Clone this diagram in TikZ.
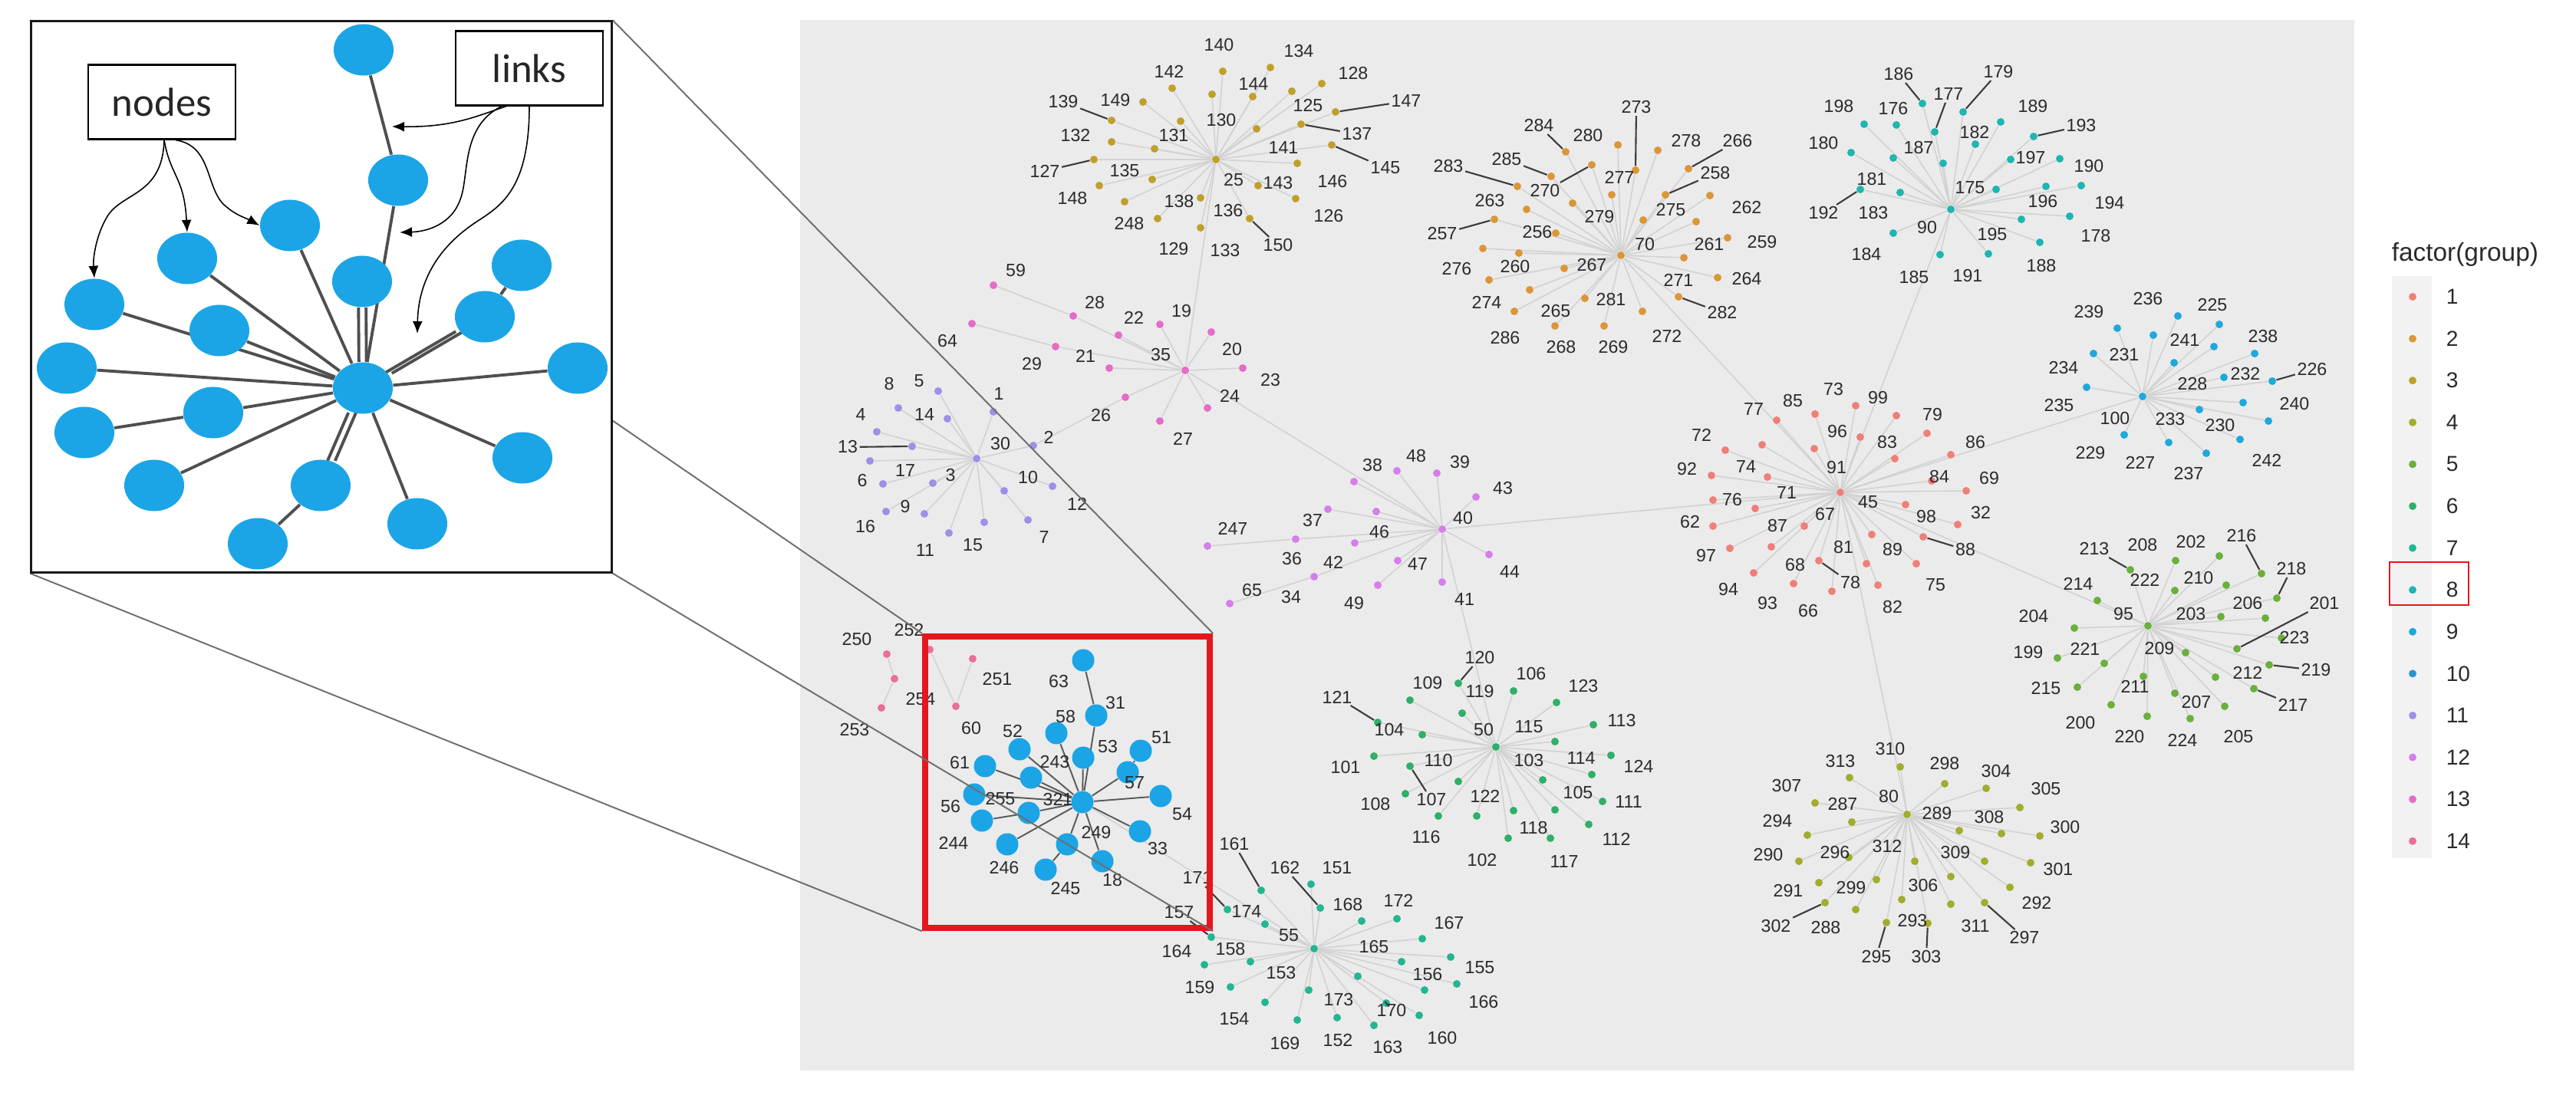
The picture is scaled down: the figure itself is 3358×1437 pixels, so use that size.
\documentclass[tikz,border=0pt]{standalone}
\usepackage{fontspec}
\setmainfont{Liberation Sans}
\newfontfamily\insetfont{Carlito}
\usetikzlibrary{shapes.geometric,arrows.meta}
\pgfdeclarelayer{panel}\pgfdeclarelayer{bg}\pgfdeclarelayer{fbox}\pgfdeclarelayer{fedge}\pgfdeclarelayer{front}
\pgfsetlayers{panel,bg,main,fbox,fedge,front}
\definecolor{txt}{HTML}{2B2B2B}
\definecolor{edgec}{HTML}{D2D2D2}
\definecolor{panelc}{HTML}{EBEBEB}
\definecolor{keybg}{HTML}{F2F2F2}
\definecolor{ldr}{HTML}{3C3C3C}
\definecolor{mgray}{HTML}{5A5A5A}
\definecolor{igray}{HTML}{4F4F4F}
\definecolor{conngray}{HTML}{6E6E6E}
\definecolor{skyb}{RGB}{27,165,230}
\definecolor{redc}{RGB}{228,22,30}
\definecolor{c1}{HTML}{F07F78}
\definecolor{c2}{HTML}{DB9637}
\definecolor{c3}{HTML}{BFA02A}
\definecolor{c4}{HTML}{A0AD2D}
\definecolor{c5}{HTML}{6BAF3C}
\definecolor{c6}{HTML}{2FAF68}
\definecolor{c7}{HTML}{22B691}
\definecolor{c8}{HTML}{1FB5B0}
\definecolor{c9}{HTML}{1FA8DB}
\definecolor{c10}{HTML}{2A93D0}
\definecolor{c11}{HTML}{A08EE8}
\definecolor{c12}{HTML}{D67EEA}
\definecolor{c13}{HTML}{E56CC9}
\definecolor{c14}{HTML}{E96E9A}
\newcommand\clusterdots[3]{\foreach \nm/\x/\y in {#3}{\node[gdot=#2] (\nm) at (\x,\y) {};}
  \begin{pgfonlayer}{bg}\foreach \nm/\x/\y in {#3}{\draw[edge] (#1) -- (\nm);}\end{pgfonlayer}}
\newcommand\numlabels[1]{\foreach \t/\x/\y in {#1}{\node[lab] (L\t) at (\x,\y) {\t};}}
\begin{document}
\begin{tikzpicture}[x=0.01cm,y=-0.01cm,
 gdot/.style={circle,inner sep=0pt,minimum size=0.1cm,fill=#1},
 bigdot/.style={circle,inner sep=0pt,minimum size=0.29cm,fill=skyb},
 lab/.style={font=\fontsize{6.6}{7}\selectfont,text=txt,inner sep=0.6pt},
 edge/.style={draw=edgec,line width=0.45pt},
 medge/.style={draw=mgray,line width=0.55pt},
 leader/.style={draw=ldr,line width=0.6pt},
 iedge/.style={draw=igray,line width=1.1pt},
 inode/.style={ellipse,inner sep=0pt,minimum width=0.78cm,minimum height=0.67cm,fill=skyb},
 tbox/.style={draw=black,line width=0.6pt,fill=white,minimum width=1.92cm,minimum height=0.97cm,font=\insetfont\fontsize{15}{18}\selectfont,text=black!85},
 iarrow/.style={draw=black,line width=0.45pt,-{Latex[length=0.16cm,width=0.13cm]}},
 conn/.style={draw=conngray,line width=0.55pt},
 legtxt/.style={font=\fontsize{8}{9}\selectfont,text=txt,anchor=west,inner sep=0pt}]
\useasboundingbox (0,0) rectangle (3358,1437);
\begin{pgfonlayer}{panel}
\fill[white] (0,0) rectangle (3358,1437);
\fill[panelc] (1043,26) rectangle (3069,1396);
\end{pgfonlayer}
% hubs
\node[gdot=c3] (hub25) at (1585,208) {};
\node[gdot=c2] (hub70) at (2113,333) {};
\node[gdot=c8] (hub90) at (2543,273) {};
\node[gdot=c1] (hub45) at (2399,642) {};
\node[gdot=c9] (hub100) at (2793,517) {};
\node[gdot=c5] (hub95) at (2800,816) {};
\node[gdot=c4] (hub289) at (2486,1062) {};
\node[gdot=c11] (hub30) at (1273,598) {};
\node[gdot=c13] (hub35) at (1545,483) {};
\node[gdot=c12] (hub40) at (1880,690) {};
\node[gdot=c6] (hub50) at (1950,974) {};
\node[gdot=c7] (hub55) at (1713,1237) {};
% cluster 25
\clusterdots{hub25}{c3}{a1/1594/93,a2/1656/88,a3/1723/109,a4/1684/119,a5/1633/126,a6/1580/123,a7/1528/115,a8/1490/133,p139/1449/157,a10/1449/185,p127/1426/208,a12/1433/242,a13/1539/158,a14/1505/194,a15/1502/234,a16/1466/263,a17/1509/285,a18/1565/258,a19/1565/297,p150/1629/285,a21/1638/168,p137/1696/162,p147/1741/146,p145/1736/189,a25/1691/213,a26/1640/242,a27/1689/259}
\numlabels{140/1589/59,134/1693/67,142/1524/93,144/1634/110,128/1764/96,139/1386/133,149/1454/131,125/1705/138,147/1833/132,130/1592/157,137/1769/175,132/1402/177,131/1530/177,141/1673/193,127/1362/223,135/1466/223,145/1806/219,25/1608/235,143/1666/239,146/1737/237,148/1398/259,138/1537/263,136/1601/275,248/1472/292,126/1732/282,150/1666/320,129/1530/325,133/1597/327}
\foreach \t in {139,127,150,137,147,145} \draw[leader] (L\t) -- (p\t);
% cluster 70
\clusterdots{hub70}{c2}{b1/2109/189,p284/2041/198,p270/2075/215,p273/2132/222,b5/2161/196,p266/2201/220,p258/2171/254,b8/2229/255,b9/2211/289,b10/2142/287,b11/2101/254,b12/2050/265,p285/2022/230,p283/1978/243,b15/1990/273,p257/1948/286,b17/2028/304,b18/1933/324,b19/1980/330,b20/2252/310,b21/2195/336,b22/2239/362,b23/2039/350,b24/1941/365,b25/1994/378,b26/2066/389,p282/2188/387,b28/1974/406,b29/2141/406,b30/2027/425,b31/2091/425}
\numlabels{273/2133/140,284/2006/164,280/2070/177,278/2198/184,266/2265/184,285/1964/208,283/1888/217,277/2111/231,258/2236/226,270/2014/249,263/1942/262,275/2178/274,262/2277/271,279/2085/283,257/1880/305,256/2004/303,70/2144/319,261/2228/319,259/2297/316,260/1975/348,267/2075/346,276/1899/351,271/2188/365,264/2277/364,274/1938/394,281/2100/391,265/2028/406,282/2245/408,286/1962/441,272/2173/438,268/2035/453,269/2103/453}
\foreach \t in {273,284,285,283,266,258,270,257,282} \draw[leader] (L\t) -- (p\t);
% cluster 90
\clusterdots{hub90}{c8}{p186/2506/135,p179/2559/146,p177/2522/172,t4/2430/162,t5/2472/163,t6/2608/159,t7/2575/188,p193/2651/178,t9/2413/199,t10/2468/206,t11/2533/213,t12/2621/208,t13/2685/207,p192/2425/247,t15/2477/251,t16/2602/247,t17/2667/243,t18/2713/242,t19/2635/286,t20/2698/282,t21/2468/304,t22/2529/332,t23/2592/331,t24/2659/316}
\numlabels{186/2475/97,179/2605/94,177/2540/123,198/2397/139,176/2468/142,189/2650/139,182/2574/173,193/2713/164,180/2377/187,187/2501/193,197/2647/206,190/2723/217,181/2440/234,175/2568/245,192/2377/278,183/2442/278,196/2663/263,194/2750/265,90/2512/297,195/2597/306,178/2732/308,184/2433/332,188/2661/347,185/2495/362,191/2565/360}
\foreach \t in {186,179,177,193,192} \draw[leader] (L\t) -- (p\t);
% cluster 45
\clusterdots{hub45}{c1}{d1/2419/529,d2/2366/540,d3/2316/548,d4/2472/542,d5/2512/565,d6/2425/570,d7/2365/585,d8/2297/580,d9/2249/587,d10/2470/598,d11/2543/593,d12/2231/620,d13/2304/622,d14/2518/627,d15/2563/640,d16/2233/652,d17/2288/663,d18/2484/658,d19/2233/686,d20/2352/686,d21/2552/684,d22/2440/697,d23/2309/713,d24/2255/715,p88/2507/700,p78/2371/731,d27/2433/735,d28/2498/735,d29/2286/747,d30/2338/761,d31/2388/771,d32/2448/763}
\numlabels{73/2390/508,85/2337/523,99/2448/519,77/2286/534,79/2519/541,72/2218/567,96/2395/563,83/2460/577,86/2575/577,91/2394/610,92/2199/612,74/2276/609,84/2528/622,69/2593/624,71/2329/643,76/2258/652,45/2435/655,67/2379/671,98/2511/674,32/2582/669,62/2203/681,87/2317/686,81/2403/714,89/2467/717,88/2562/717,97/2224/725,68/2340/737,78/2412/760,75/2523/763,94/2253/769,93/2304/787,66/2357/797,82/2467/792}
\foreach \t in {88,78} \draw[leader] (L\t) -- (p\t);
% cluster 100
\clusterdots{hub100}{c9}{e1/2839/412,e2/2760/428,e3/2893/423,e4/2807/437,e5/2886/452,e6/2729/461,e7/2939/461,e8/2834/473,e9/2899/492,p226/2962/497,e11/2720/505,e12/2924/525,e13/2867/534,e14/2957/549,e15/2769/567,e16/2827/577,e17/2920/573,e18/2876/591}
\numlabels{236/2800/390,239/2723/407,225/2884/398,241/2848/443,231/2769/463,234/2690/480,238/2950/439,226/3014/482,232/2927/488,228/2858/501,235/2684/529,240/2991/527,100/2757/546,233/2829/547,230/2894/555,229/2725/591,227/2790/603,242/2955/600,237/2853/618}
\draw[leader] (L226) -- (p226);
% cluster 95
\clusterdots{hub95}{c5}{f1/2836/731,f2/2893/725,p213/2777/743,p216/2948/748,f5/2835/770,f6/2902/763,f7/2734/783,p218/2968/780,f9/2895/804,f10/2953/806,f11/2704/819,f12/2974/832,f13/2849/851,p201/2916/846,f15/2682/858,f16/2743/865,p219/2958/867,f18/2888/883,f19/2794/882,f20/2708/896,p217/2938/898,f22/2835/904,f23/2900/921,f24/2752/919,f25/2799/934,f26/2855/937}
\numlabels{216/2922/699,213/2730/716,208/2793/711,202/2856/707,218/2987/742,222/2796/756,210/2866/754,214/2709/761,206/2930/787,201/3030/787,204/2651/804,95/2768/801,203/2856/801,223/2991/832,199/2644/851,221/2718/846,209/2815/846,212/2930/877,219/3019/874,215/2667/898,211/2783/895,207/2863/916,217/2989/919,200/2712/943,220/2776/961,224/2845/965,205/2918/961}
\foreach \t in {216,213,218,201,219,217} \draw[leader] (L\t) -- (p\t);
% cluster 289
\clusterdots{hub289}{c4}{g1/2477/1000,g2/2411/1014,g3/2535/1022,g4/2589/1028,g5/2366/1047,g6/2414/1072,g7/2633/1053,g8/2356/1089,g9/2554/1083,g10/2609/1087,g11/2659/1090,g12/2345/1123,g13/2410/1118,g14/2496/1123,g15/2587/1123,g16/2647/1125,g17/2371/1151,g18/2446/1147,g19/2543/1143,g20/2620/1157,p302/2379/1177,g22/2419/1186,g23/2479/1173,g24/2543/1179,p297/2587/1177,p295/2459/1203,p303/2513/1204}
\numlabels{310/2464/977,313/2399/993,298/2535/996,304/2602/1006,307/2329/1025,305/2667/1029,80/2462/1039,287/2402/1049,289/2525/1061,308/2593/1066,294/2317/1071,300/2692/1079,312/2460/1104,309/2549/1112,290/2305/1115,296/2392/1112,301/2683/1134,306/2507/1155,299/2413/1158,291/2331/1162,292/2655/1178,293/2493/1201,311/2575/1207,302/2315/1207,288/2380/1210,297/2639/1223,295/2446/1247,303/2511/1247}
\foreach \t in {302,297,295,303} \draw[leader] (L\t) -- (p\t);
% cluster 30
\clusterdots{hub30}{c11}{v1/1223/510,v2/1171/532,v3/1235/546,v4/1295/537,v5/1143/563,p13/1189/582,v7/1134/601,v2d/1347/581,v9/1151/631,v10/1216/630,v11/1309/640,v12/1372/634,v13/1155/667,v14/1205/670,v15/1283/681,v16/1340/678,v17/1237/695}
\numlabels{8/1159/501,5/1198/497,1/1302/514,4/1122/541,14/1205/541,13/1105/583,30/1304/579,2/1367/570,17/1180/614,3/1239/620,6/1124/627,10/1340/623,9/1180/661,12/1404/657,16/1128/687,7/1361/701,15/1268/711,11/1206/718}
\draw[leader] (L13) -- (p13);
% cluster 35
\clusterdots{hub35}{c13}{i28/1399/412,i19/1512/423,i22/1458/437,i20/1579/433,i29/1376/452,i21/1446/480,i23/1620/480,i26/1467/518,i24/1574/532,i27/1512/549}
\node[gdot=c13] (i59) at (1295,372) {};
\node[gdot=c13] (i64) at (1267,422) {};
\numlabels{59/1324/353,28/1427/395,19/1540/406,22/1478/414,64/1235/445,20/1606/456,21/1415/464,35/1513/463,29/1345/475,23/1656/496,24/1603/516,26/1435/542,27/1542/572}
% cluster 40
\clusterdots{hub40}{c12}{j48/1821/614,j39/1873/617,j38/1765/628,j43/1924/648,j37/1731/664,j46/1794/667,j36/1689/703,j42/1766/708,j44/1941/723,j47/1822/731,j34/1713/752,j49/1796/763,j41/1880/759}
\node[gdot=c12] (j247) at (1574,712) {};
\node[gdot=c12] (j65) at (1603,787) {};
\numlabels{48/1846/595,38/1789/607,39/1903/603,43/1959/637,40/1907/676,37/1711/679,247/1607/689,46/1798/694,36/1684/729,42/1738/733,47/1848/736,44/1968/746,65/1632/770,34/1683/779,49/1765/787,41/1909/782}
% cluster 50
\clusterdots{hub50}{c6}{p120/1901/891,k2/1838/913,k3/1973/901,k4/2029/916,k5/1906/930,p121/1796/942,k7/2077/945,k8/1854/958,k9/2027/967,k10/1791/986,k11/2100/985,p107/1838/999,k13/2075/1010,k14/2011/1017,k15/1901/1019,k16/1832/1035,k17/2089/1045,k18/1973/1057,k19/2027/1056,k20/1875/1064,k21/1925/1064,k22/2071/1075,k23/1966/1093,k24/2021/1093}
\numlabels{120/1929/858,106/1996/879,123/2064/895,109/1861/891,119/1929/902,121/1743/909,113/2114/940,50/1934/952,115/1993/948,104/1811/952,101/1754/1001,110/1875/992,103/1993/992,114/2061/989,124/2136/999,122/1936/1038,105/2057/1034,108/1793/1049,107/1866/1043,111/2123/1046,118/1999/1080,116/1859/1092,112/2107/1094,102/1932/1122,117/2039/1124}
\foreach \t in {120,121,107} \draw[leader] (L\t) -- (p\t);
% cluster 55
\clusterdots{hub55}{c7}{p161/1644/1161,l2/1709/1153,p162/1721/1184,p171/1600/1186,l5/1649/1205,l6/1775/1201,l7/1821/1198,p157/1579/1222,l9/1854/1224,l10/1630/1254,l11/1570/1258,l12/1827/1254,l13/1891/1248,l14/1770/1273,l15/1604/1287,l16/1706/1291,l17/1857/1291,l18/1899/1283,l19/1649/1307,p170/1807/1308,l21/1691/1330,l22/1743/1327,l23/1791/1337,l24/1850/1324}
\numlabels{161/1609/1101,162/1675/1132,151/1743/1132,171/1561/1145,168/1757/1180,172/1823/1174,174/1625/1189,157/1537/1190,167/1889/1204,55/1680/1220,165/1791/1235,164/1534/1241,158/1604/1237,155/1929/1262,153/1670/1269,156/1861/1270,159/1564/1287,173/1745/1303,166/1934/1306,170/1814/1317,154/1609/1329,169/1675/1361,152/1744/1356,163/1809/1365,160/1880/1354}
\foreach \t in {161,162,171,157,170} \draw[leader] (L\t) -- (p\t);
% small pink groups
\foreach \nm/\x/\y in {n250/1156/853,n252/1212/847,n251/1268/859,n1/1166/885,n253/1149/923,n254/1246/921}
  \node[gdot=c14] (\nm) at (\x,\y) {};
\numlabels{250/1117/834,252/1185/822,251/1300/886,254/1200/912,253/1114/952}
% highlighted blue cluster
\node[bigdot] (hubM) at (1411,1046) {};
\foreach \nm/\x/\y in {m63/1412/861,m31/1429/933,m58/1377/956,m52/1329/977,m51/1487/979,m53/1412/988,m61/1284/999,m243/1344/1014,m57/1470/1007,m54/1513/1038,m56/1270/1036,m255/1341/1060,m244/1280/1070,m33/1486/1084,m249/1391/1101,m246/1313/1101,m18/1437/1123,m245/1363/1134}
  \node[bigdot] (\nm) at (\x,\y) {};
\numlabels{63/1380/889,31/1454/917,58/1389/935,51/1514/962,52/1320/954,53/1444/974,60/1266/950,243/1375/994,61/1251/995,57/1479/1021,255/1304/1042,321/1379/1043,56/1239/1052,54/1541/1062,249/1429/1086,244/1243/1099,33/1509/1107,246/1309/1132,18/1450/1148,245/1389/1159}
% all remaining links, on the background layer
\begin{pgfonlayer}{bg}
\draw[edge] (hub25) -- (hub35);
\draw[edge] (hub35) -- (hub40);
\draw[edge] (hub40) -- (hub45);
\draw[edge] (hub45) -- (hub70);
\draw[edge] (hub45) -- (hub90);
\draw[edge] (hub45) -- (hub100);
\draw[edge] (hub45) -- (hub95);
\draw[edge] (hub45) -- (hub289);
\draw[edge] (hub40) -- (hub50);
\draw[edge] (hubM) -- (hub55);
\draw[edge] (i59) -- (i28);
\draw[edge] (i64) -- (i29);
\draw[edge] (v2d) -- (i26);
\draw[edge] (j247) -- (j36);
\draw[edge] (j65) -- (j34);
\draw[edge] (n254) -- (n252);
\draw[edge] (n254) -- (n251);
\draw[edge] (n1) -- (n250);
\draw[edge] (n1) -- (n253);
\foreach \nm in {m31,m58,m52,m53,m61,m243,m57,m54,m56,m255,m33,m249,m246,m18}
  \draw[medge] (hubM) -- (\nm);
\draw[medge] (m63) -- (m31);
\draw[medge] (m51) -- (m57);
\draw[medge] (m244) -- (m255);
\draw[medge] (m245) -- (m249);
\end{pgfonlayer}
% legend
\node[anchor=west,inner sep=0pt,font=\fontsize{9.5}{11}\selectfont,text=txt] (legtitle) at (3117,332) {factor(group)};
\fill[keybg] (3118,360) rectangle (3170,1119);
\foreach \k in {1,...,14}{
  \pgfmathsetmacro\yy{387+(\k-1)*54.6}
  \node[gdot=c\k] (lk\k) at (3145,\yy) {};
  \node[legtxt] (lg\k) at (3188,\yy) {\k};}
\node[draw=redc,line width=0.75pt,minimum width=1.03cm,minimum height=0.56cm,inner sep=0pt] (legbox) at (3166.5,761) {};
% red box and connectors
\node[draw=redc,line width=2.3pt,minimum width=3.71cm,minimum height=3.80cm,inner sep=0pt] (redbox) at (1391.5,1020) {};
\begin{pgfonlayer}{fbox}
\node[draw=black!90,line width=0.85pt,fill=white,minimum width=7.56cm,minimum height=7.18cm,inner sep=0pt] (inset) at (419,387) {};
\end{pgfonlayer}
\draw[conn] (inset.north west) -- (redbox.north west);
\draw[conn] (inset.north east) -- (redbox.north east);
\draw[conn] (inset.south west) -- (redbox.south west);
\draw[conn] (inset.south east) -- (redbox.south east);
% inset
\begin{pgfonlayer}{front}
\foreach \nm/\x/\y in {qh/473/506,q1/474/65,q2/519/235,q3/378/294,q4/244/337,q5/472/367,q6/123/397,q7/286/431,q8/680/346,q9/632/413,q10/87/480,q11/753/480,q12/278/538,q13/110/564,q14/681/597,q15/201/633,q16/418/633,q17/544/683,q18/336/709}
  \node[inode] (\nm) at (\x,\y) {};
\node[tbox] (nodesbox) at (211,133) {nodes};
\node[tbox] (linksbox) at (690,89) {links};
\coordinate (lk1) at (511,165);
\coordinate (lk2) at (521,303);
\coordinate (lk3) at (544,435);
\draw[iarrow] ([xshift=0.03cm]nodesbox.south) .. controls (212,255) and (160,250) .. (140,282) .. controls (126,305) and (121,335) .. (q6.north);
\draw[iarrow] ([xshift=0.03cm]nodesbox.south) .. controls (222,230) and (240,230) .. (q4.north);
\draw[iarrow] ([xshift=0.18cm]nodesbox.south) .. controls (275,190) and (268,240) .. (290,265) .. controls (305,280) and (320,284) .. (q3.west);
\draw[iarrow] ([xshift=-0.3cm]linksbox.south) .. controls (620,152) and (590,166) .. (lk1);
\draw[iarrow] ([xshift=-0.36cm]linksbox.south) .. controls (600,165) and (612,230) .. (600,260) .. controls (590,290) and (560,302) .. (lk2);
\draw[iarrow] (linksbox.south) .. controls (690,250) and (650,270) .. (620,290) .. controls (560,330) and (545,380) .. (lk3);
\end{pgfonlayer}
\begin{pgfonlayer}{fedge}
\foreach \nm in {q2,q3,q4,q6,q7,q10,q12,q15,q17,q14,q11}
  \draw[iedge] (qh) -- (\nm);
\foreach \nm in {q5,q16,q9}{
  \draw[iedge,transform canvas={xshift=1.4pt}] (qh) -- (\nm);
  \draw[iedge,transform canvas={xshift=-1.4pt}] (qh) -- (\nm);}
\draw[iedge] (q1) -- (q2);
\draw[iedge] (q12) -- (q13);
\draw[iedge] (q16) -- (q18);
\draw[iedge] (q9) -- (q8);
\end{pgfonlayer}
\end{tikzpicture}
\end{document}
